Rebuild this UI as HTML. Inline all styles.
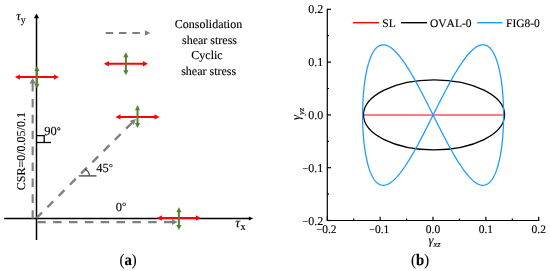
<!DOCTYPE html>
<html><head><meta charset="utf-8"><style>
html,body{margin:0;padding:0;background:#fff;}
body{width:550px;height:271px;overflow:hidden;}
svg{display:block;}
text{font-family:"Liberation Serif",serif;fill:#000;text-rendering:geometricPrecision;stroke:#000;stroke-width:0.12px;}
</style></head><body>
<svg width="550" height="271" viewBox="0 0 550 271">

<g stroke="#000" stroke-width="1.5" fill="none">
<line x1="36.5" y1="240" x2="36.5" y2="17"/>
<line x1="4.2" y1="218.4" x2="250" y2="218.4"/>
</g>
<path d="M36.5,13.5 L39.1,18.2 L33.9,18.2 Z" fill="#000"/>
<path d="M253.2,218.4 L248.9,216.4 L248.9,220.4 Z" fill="#000"/>
<line x1="32.65" y1="218.4" x2="32.65" y2="82.80" stroke="#7f7f7f" stroke-width="2.1" stroke-dasharray="8.6 7.3" stroke-dashoffset="0.4"/><path d="M32.65,78.00 L35.80,83.60 L29.50,83.60 Z" fill="#7f7f7f"/>
<line x1="36.6" y1="218.0" x2="132.40" y2="122.29" stroke="#7f7f7f" stroke-width="2.35" stroke-dasharray="8.3 7.6" stroke-dashoffset="0.7"/><path d="M135.80,118.90 L133.89,124.91 L129.79,120.81 Z" fill="#7f7f7f"/>
<line x1="36.6" y1="222.1" x2="172.80" y2="222.10" stroke="#7f7f7f" stroke-width="2.1" stroke-dasharray="8.5 7.34" stroke-dashoffset="-0.7"/><path d="M177.60,222.10 L172.00,225.00 L172.00,219.20 Z" fill="#7f7f7f"/>
<line x1="105.7" y1="33.0" x2="145.70" y2="33.00" stroke="#7f7f7f" stroke-width="2.0" stroke-dasharray="7.5 5.8" stroke-dashoffset="0"/><path d="M150.30,33.00 L144.90,35.80 L144.90,30.20 Z" fill="#7f7f7f"/>
<line x1="107.90" y1="63.80" x2="143.90" y2="63.80" stroke="#ff0000" stroke-width="2.0"/><path d="M147.90,63.80 L142.90,66.50 L142.90,61.10 Z" fill="#ff0000"/><path d="M103.90,63.80 L108.90,66.50 L108.90,61.10 Z" fill="#ff0000"/>
<line x1="125.90" y1="56.35" x2="125.90" y2="71.15" stroke="#548235" stroke-width="2.0"/><path d="M125.90,75.15 L123.30,70.15 L128.50,70.15 Z" fill="#548235"/><path d="M125.90,52.35 L123.30,57.35 L128.50,57.35 Z" fill="#548235"/>
<line x1="18.90" y1="77.10" x2="54.90" y2="77.10" stroke="#ff0000" stroke-width="2.0"/><path d="M58.90,77.10 L53.90,79.80 L53.90,74.40 Z" fill="#ff0000"/><path d="M14.90,77.10 L19.90,79.80 L19.90,74.40 Z" fill="#ff0000"/>
<line x1="36.90" y1="69.90" x2="36.90" y2="84.70" stroke="#548235" stroke-width="2.0"/><path d="M36.90,88.70 L34.30,83.70 L39.50,83.70 Z" fill="#548235"/><path d="M36.90,65.90 L34.30,70.90 L39.50,70.90 Z" fill="#548235"/>
<line x1="119.50" y1="116.90" x2="155.50" y2="116.90" stroke="#ff0000" stroke-width="2.0"/><path d="M159.50,116.90 L154.50,119.60 L154.50,114.20 Z" fill="#ff0000"/><path d="M115.50,116.90 L120.50,119.60 L120.50,114.20 Z" fill="#ff0000"/>
<line x1="137.50" y1="109.30" x2="137.50" y2="124.10" stroke="#548235" stroke-width="2.0"/><path d="M137.50,128.10 L134.90,123.10 L140.10,123.10 Z" fill="#548235"/><path d="M137.50,105.30 L134.90,110.30 L140.10,110.30 Z" fill="#548235"/>
<line x1="160.90" y1="218.00" x2="196.90" y2="218.00" stroke="#ff0000" stroke-width="2.0"/><path d="M200.90,218.00 L195.90,220.70 L195.90,215.30 Z" fill="#ff0000"/><path d="M156.90,218.00 L161.90,220.70 L161.90,215.30 Z" fill="#ff0000"/>
<line x1="178.90" y1="211.30" x2="178.90" y2="226.10" stroke="#548235" stroke-width="2.0"/><path d="M178.90,230.10 L176.30,225.10 L181.50,225.10 Z" fill="#548235"/><path d="M178.90,207.30 L176.30,212.30 L181.50,212.30 Z" fill="#548235"/>
<g stroke="#000" stroke-width="1.3" fill="none">
<path d="M36.5,135.6 H44.2 V142.5"/>
<line x1="36.5" y1="142.5" x2="51" y2="142.5"/>
</g>
<g stroke="#595959" stroke-width="1.5" fill="none">
<line x1="78.8" y1="175.9" x2="96.5" y2="175.9"/>
<path d="M85.0,169.3 Q88.9,171.0 89.5,175.6" stroke="#3a3a3a" stroke-width="1.1"/>
</g>
<text x="44.2" y="134.8" font-size="12.5">90<tspan font-size="10" dy="-1.2">°</tspan></text>
<text x="96.3" y="172.0" font-size="12.5">45<tspan font-size="10.5" dy="-1.2">°</tspan></text>
<text x="115.7" y="211.0" font-size="12.5">0<tspan font-size="11" dy="-1.0">°</tspan></text>
<text transform="translate(25,190.2) rotate(-90)" font-size="12">CSR=0/0.05/0.1</text>
<text x="208.5" y="28" font-size="12" text-anchor="middle">Consolidation</text>
<text x="209.5" y="43.5" font-size="12" text-anchor="middle">shear stress</text>
<text x="207" y="59.1" font-size="12" text-anchor="middle">Cyclic</text>
<text x="208.7" y="74.7" font-size="12" text-anchor="middle">shear stress</text>
<text x="16.2" y="20.2" font-size="13" font-style="italic">τ<tspan font-size="10" font-style="normal" dy="3">y</tspan></text>
<text x="235.3" y="226.5" font-size="13.5" font-style="italic">τ<tspan font-size="11" font-style="normal" dy="3.7">x</tspan></text>
<text transform="translate(119.6,265) scale(0.92,1)" font-size="16">(<tspan font-weight="bold">a</tspan>)</text>
<text transform="translate(411.1,265) scale(0.92,1)" font-size="16">(<tspan font-weight="bold">b</tspan>)</text>
<g stroke="#000" stroke-width="1.2" fill="none">
<path d="M327.3,8.70 V220.5 H539.30"/>
<line x1="327.3" y1="220.50" x2="331" y2="220.50"/>
<line x1="327.30" y1="220.5" x2="327.30" y2="216.8"/>
<line x1="327.3" y1="167.70" x2="331" y2="167.70"/>
<line x1="380.15" y1="220.5" x2="380.15" y2="216.8"/>
<line x1="327.3" y1="114.90" x2="331" y2="114.90"/>
<line x1="433.00" y1="220.5" x2="433.00" y2="216.8"/>
<line x1="327.3" y1="62.10" x2="331" y2="62.10"/>
<line x1="485.85" y1="220.5" x2="485.85" y2="216.8"/>
<line x1="327.3" y1="9.30" x2="331" y2="9.30"/>
<line x1="538.70" y1="220.5" x2="538.70" y2="216.8"/>
<line x1="327.3" y1="194.10" x2="329" y2="194.10"/>
<line x1="353.73" y1="220.5" x2="353.73" y2="218.5"/>
<line x1="327.3" y1="141.30" x2="329" y2="141.30"/>
<line x1="406.57" y1="220.5" x2="406.57" y2="218.5"/>
<line x1="327.3" y1="88.50" x2="329" y2="88.50"/>
<line x1="459.43" y1="220.5" x2="459.43" y2="218.5"/>
<line x1="327.3" y1="35.70" x2="329" y2="35.70"/>
<line x1="512.27" y1="220.5" x2="512.27" y2="218.5"/>
</g>
<text x="323.2" y="224.60" font-size="12" text-anchor="end"><tspan font-size="10">−</tspan>0.2</text>
<text x="326.50" y="233.3" font-size="11.5" text-anchor="middle"><tspan font-size="10">−</tspan>0.2</text>
<text x="323.2" y="171.80" font-size="12" text-anchor="end"><tspan font-size="10">−</tspan>0.1</text>
<text x="379.35" y="233.3" font-size="11.5" text-anchor="middle"><tspan font-size="10">−</tspan>0.1</text>
<text x="323.2" y="119.00" font-size="12" text-anchor="end">0.0</text>
<text x="433.00" y="233.3" font-size="11.5" text-anchor="middle">0.0</text>
<text x="323.2" y="66.20" font-size="12" text-anchor="end">0.1</text>
<text x="485.85" y="233.3" font-size="11.5" text-anchor="middle">0.1</text>
<text x="323.2" y="13.40" font-size="12" text-anchor="end">0.2</text>
<text x="538.70" y="233.3" font-size="11.5" text-anchor="middle">0.2</text>
<text x="428.6" y="243.6" font-size="12.5" font-style="italic">γ<tspan font-size="8.5" dy="3.4">xz</tspan></text>
<text transform="translate(300.4,120) rotate(-90)" font-size="12.5" font-style="italic">γ<tspan font-size="8.5" dy="3.5">yz</tspan></text>
<line x1="363.4" y1="115.0" x2="505" y2="115.0" stroke="#ff0000" stroke-width="1.15"/>
<ellipse cx="434.05" cy="114.85" rx="70.55" ry="35.05" fill="none" stroke="#000" stroke-width="1.25"/>
<path d="M433.10,115.05 L434.21,112.84 L435.31,110.64 L436.42,108.44 L437.53,106.25 L438.63,104.06 L439.73,101.89 L440.84,99.73 L441.94,97.58 L443.03,95.45 L444.13,93.34 L445.22,91.25 L446.31,89.19 L447.40,87.15 L448.48,85.14 L449.56,83.16 L450.63,81.21 L451.70,79.29 L452.77,77.41 L453.83,75.56 L454.89,73.76 L455.94,71.99 L456.98,70.27 L458.02,68.59 L459.05,66.96 L460.08,65.38 L461.10,63.84 L462.11,62.35 L463.12,60.92 L464.12,59.54 L465.11,58.22 L466.09,56.95 L467.06,55.74 L468.03,54.58 L468.99,53.49 L469.94,52.46 L470.88,51.49 L471.81,50.58 L472.73,49.73 L473.64,48.95 L474.54,48.24 L475.43,47.59 L476.31,47.01 L477.18,46.49 L478.04,46.04 L478.89,45.66 L479.72,45.35 L480.55,45.11 L481.36,44.94 L482.16,44.83 L482.95,44.80 L483.73,44.83 L484.49,44.94 L485.24,45.11 L485.98,45.35 L486.71,45.66 L487.42,46.04 L488.12,46.49 L488.81,47.01 L489.48,47.59 L490.14,48.24 L490.78,48.95 L491.41,49.73 L492.02,50.58 L492.63,51.49 L493.21,52.46 L493.78,53.49 L494.34,54.58 L494.88,55.74 L495.41,56.95 L495.92,58.22 L496.41,59.54 L496.89,60.92 L497.35,62.35 L497.80,63.84 L498.23,65.38 L498.65,66.96 L499.05,68.59 L499.43,70.27 L499.80,71.99 L500.15,73.76 L500.48,75.56 L500.80,77.41 L501.10,79.29 L501.39,81.21 L501.65,83.16 L501.90,85.14 L502.14,87.15 L502.35,89.19 L502.55,91.25 L502.73,93.34 L502.90,95.45 L503.04,97.58 L503.17,99.73 L503.29,101.89 L503.38,104.06 L503.46,106.25 L503.52,108.44 L503.57,110.64 L503.59,112.84 L503.60,115.05 L503.59,117.26 L503.57,119.46 L503.52,121.66 L503.46,123.85 L503.38,126.04 L503.29,128.21 L503.17,130.37 L503.04,132.52 L502.90,134.65 L502.73,136.76 L502.55,138.85 L502.35,140.91 L502.14,142.95 L501.90,144.96 L501.65,146.94 L501.39,148.89 L501.10,150.81 L500.80,152.69 L500.48,154.54 L500.15,156.34 L499.80,158.11 L499.43,159.83 L499.05,161.51 L498.65,163.14 L498.23,164.72 L497.80,166.26 L497.35,167.75 L496.89,169.18 L496.41,170.56 L495.92,171.88 L495.41,173.15 L494.88,174.36 L494.34,175.52 L493.78,176.61 L493.21,177.64 L492.63,178.61 L492.02,179.52 L491.41,180.37 L490.78,181.15 L490.14,181.86 L489.48,182.51 L488.81,183.09 L488.12,183.61 L487.42,184.06 L486.71,184.44 L485.98,184.75 L485.24,184.99 L484.49,185.16 L483.73,185.27 L482.95,185.30 L482.16,185.27 L481.36,185.16 L480.55,184.99 L479.72,184.75 L478.89,184.44 L478.04,184.06 L477.18,183.61 L476.31,183.09 L475.43,182.51 L474.54,181.86 L473.64,181.15 L472.73,180.37 L471.81,179.52 L470.88,178.61 L469.94,177.64 L468.99,176.61 L468.03,175.52 L467.06,174.36 L466.09,173.15 L465.11,171.88 L464.12,170.56 L463.12,169.18 L462.11,167.75 L461.10,166.26 L460.08,164.72 L459.05,163.14 L458.02,161.51 L456.98,159.83 L455.94,158.11 L454.89,156.34 L453.83,154.54 L452.77,152.69 L451.70,150.81 L450.63,148.89 L449.56,146.94 L448.48,144.96 L447.40,142.95 L446.31,140.91 L445.22,138.85 L444.13,136.76 L443.03,134.65 L441.94,132.52 L440.84,130.37 L439.73,128.21 L438.63,126.04 L437.53,123.85 L436.42,121.66 L435.31,119.46 L434.21,117.26 L433.10,115.05 L431.99,112.84 L430.89,110.64 L429.78,108.44 L428.67,106.25 L427.57,104.06 L426.47,101.89 L425.36,99.73 L424.26,97.58 L423.17,95.45 L422.07,93.34 L420.98,91.25 L419.89,89.19 L418.80,87.15 L417.72,85.14 L416.64,83.16 L415.57,81.21 L414.50,79.29 L413.43,77.41 L412.37,75.56 L411.31,73.76 L410.26,71.99 L409.22,70.27 L408.18,68.59 L407.15,66.96 L406.12,65.38 L405.10,63.84 L404.09,62.35 L403.08,60.92 L402.08,59.54 L401.09,58.22 L400.11,56.95 L399.14,55.74 L398.17,54.58 L397.21,53.49 L396.26,52.46 L395.32,51.49 L394.39,50.58 L393.47,49.73 L392.56,48.95 L391.66,48.24 L390.77,47.59 L389.89,47.01 L389.02,46.49 L388.16,46.04 L387.31,45.66 L386.48,45.35 L385.65,45.11 L384.84,44.94 L384.04,44.83 L383.25,44.80 L382.47,44.83 L381.71,44.94 L380.96,45.11 L380.22,45.35 L379.49,45.66 L378.78,46.04 L378.08,46.49 L377.39,47.01 L376.72,47.59 L376.06,48.24 L375.42,48.95 L374.79,49.73 L374.18,50.58 L373.57,51.49 L372.99,52.46 L372.42,53.49 L371.86,54.58 L371.32,55.74 L370.79,56.95 L370.28,58.22 L369.79,59.54 L369.31,60.92 L368.85,62.35 L368.40,63.84 L367.97,65.38 L367.55,66.96 L367.15,68.59 L366.77,70.27 L366.40,71.99 L366.05,73.76 L365.72,75.56 L365.40,77.41 L365.10,79.29 L364.81,81.21 L364.55,83.16 L364.30,85.14 L364.06,87.15 L363.85,89.19 L363.65,91.25 L363.47,93.34 L363.30,95.45 L363.16,97.58 L363.03,99.73 L362.91,101.89 L362.82,104.06 L362.74,106.25 L362.68,108.44 L362.63,110.64 L362.61,112.84 L362.60,115.05 L362.61,117.26 L362.63,119.46 L362.68,121.66 L362.74,123.85 L362.82,126.04 L362.91,128.21 L363.03,130.37 L363.16,132.52 L363.30,134.65 L363.47,136.76 L363.65,138.85 L363.85,140.91 L364.06,142.95 L364.30,144.96 L364.55,146.94 L364.81,148.89 L365.10,150.81 L365.40,152.69 L365.72,154.54 L366.05,156.34 L366.40,158.11 L366.77,159.83 L367.15,161.51 L367.55,163.14 L367.97,164.72 L368.40,166.26 L368.85,167.75 L369.31,169.18 L369.79,170.56 L370.28,171.88 L370.79,173.15 L371.32,174.36 L371.86,175.52 L372.42,176.61 L372.99,177.64 L373.57,178.61 L374.18,179.52 L374.79,180.37 L375.42,181.15 L376.06,181.86 L376.72,182.51 L377.39,183.09 L378.08,183.61 L378.78,184.06 L379.49,184.44 L380.22,184.75 L380.96,184.99 L381.71,185.16 L382.47,185.27 L383.25,185.30 L384.04,185.27 L384.84,185.16 L385.65,184.99 L386.48,184.75 L387.31,184.44 L388.16,184.06 L389.02,183.61 L389.89,183.09 L390.77,182.51 L391.66,181.86 L392.56,181.15 L393.47,180.37 L394.39,179.52 L395.32,178.61 L396.26,177.64 L397.21,176.61 L398.17,175.52 L399.14,174.36 L400.11,173.15 L401.09,171.88 L402.08,170.56 L403.08,169.18 L404.09,167.75 L405.10,166.26 L406.12,164.72 L407.15,163.14 L408.18,161.51 L409.22,159.83 L410.26,158.11 L411.31,156.34 L412.37,154.54 L413.43,152.69 L414.50,150.81 L415.57,148.89 L416.64,146.94 L417.72,144.96 L418.80,142.95 L419.89,140.91 L420.98,138.85 L422.07,136.76 L423.17,134.65 L424.26,132.52 L425.36,130.37 L426.47,128.21 L427.57,126.04 L428.67,123.85 L429.78,121.66 L430.89,119.46 L431.99,117.26 L433.10,115.05 Z" fill="none" stroke="#1a9cff" stroke-width="1.25" stroke-linejoin="round"/>
<line x1="353" y1="22.7" x2="379" y2="22.7" stroke="#ff0000" stroke-width="1.4"/>
<text x="382.3" y="27" font-size="11.5">SL</text>
<line x1="401" y1="22.7" x2="427" y2="22.7" stroke="#000" stroke-width="1.4"/>
<text x="430" y="27" font-size="11.5" style="font-kerning:none">OVAL-0</text>
<line x1="477.2" y1="22.7" x2="502.5" y2="22.7" stroke="#1a9cff" stroke-width="1.4"/>
<text x="506" y="27" font-size="11.5">FIG8-0</text>
</svg>
</body></html>
